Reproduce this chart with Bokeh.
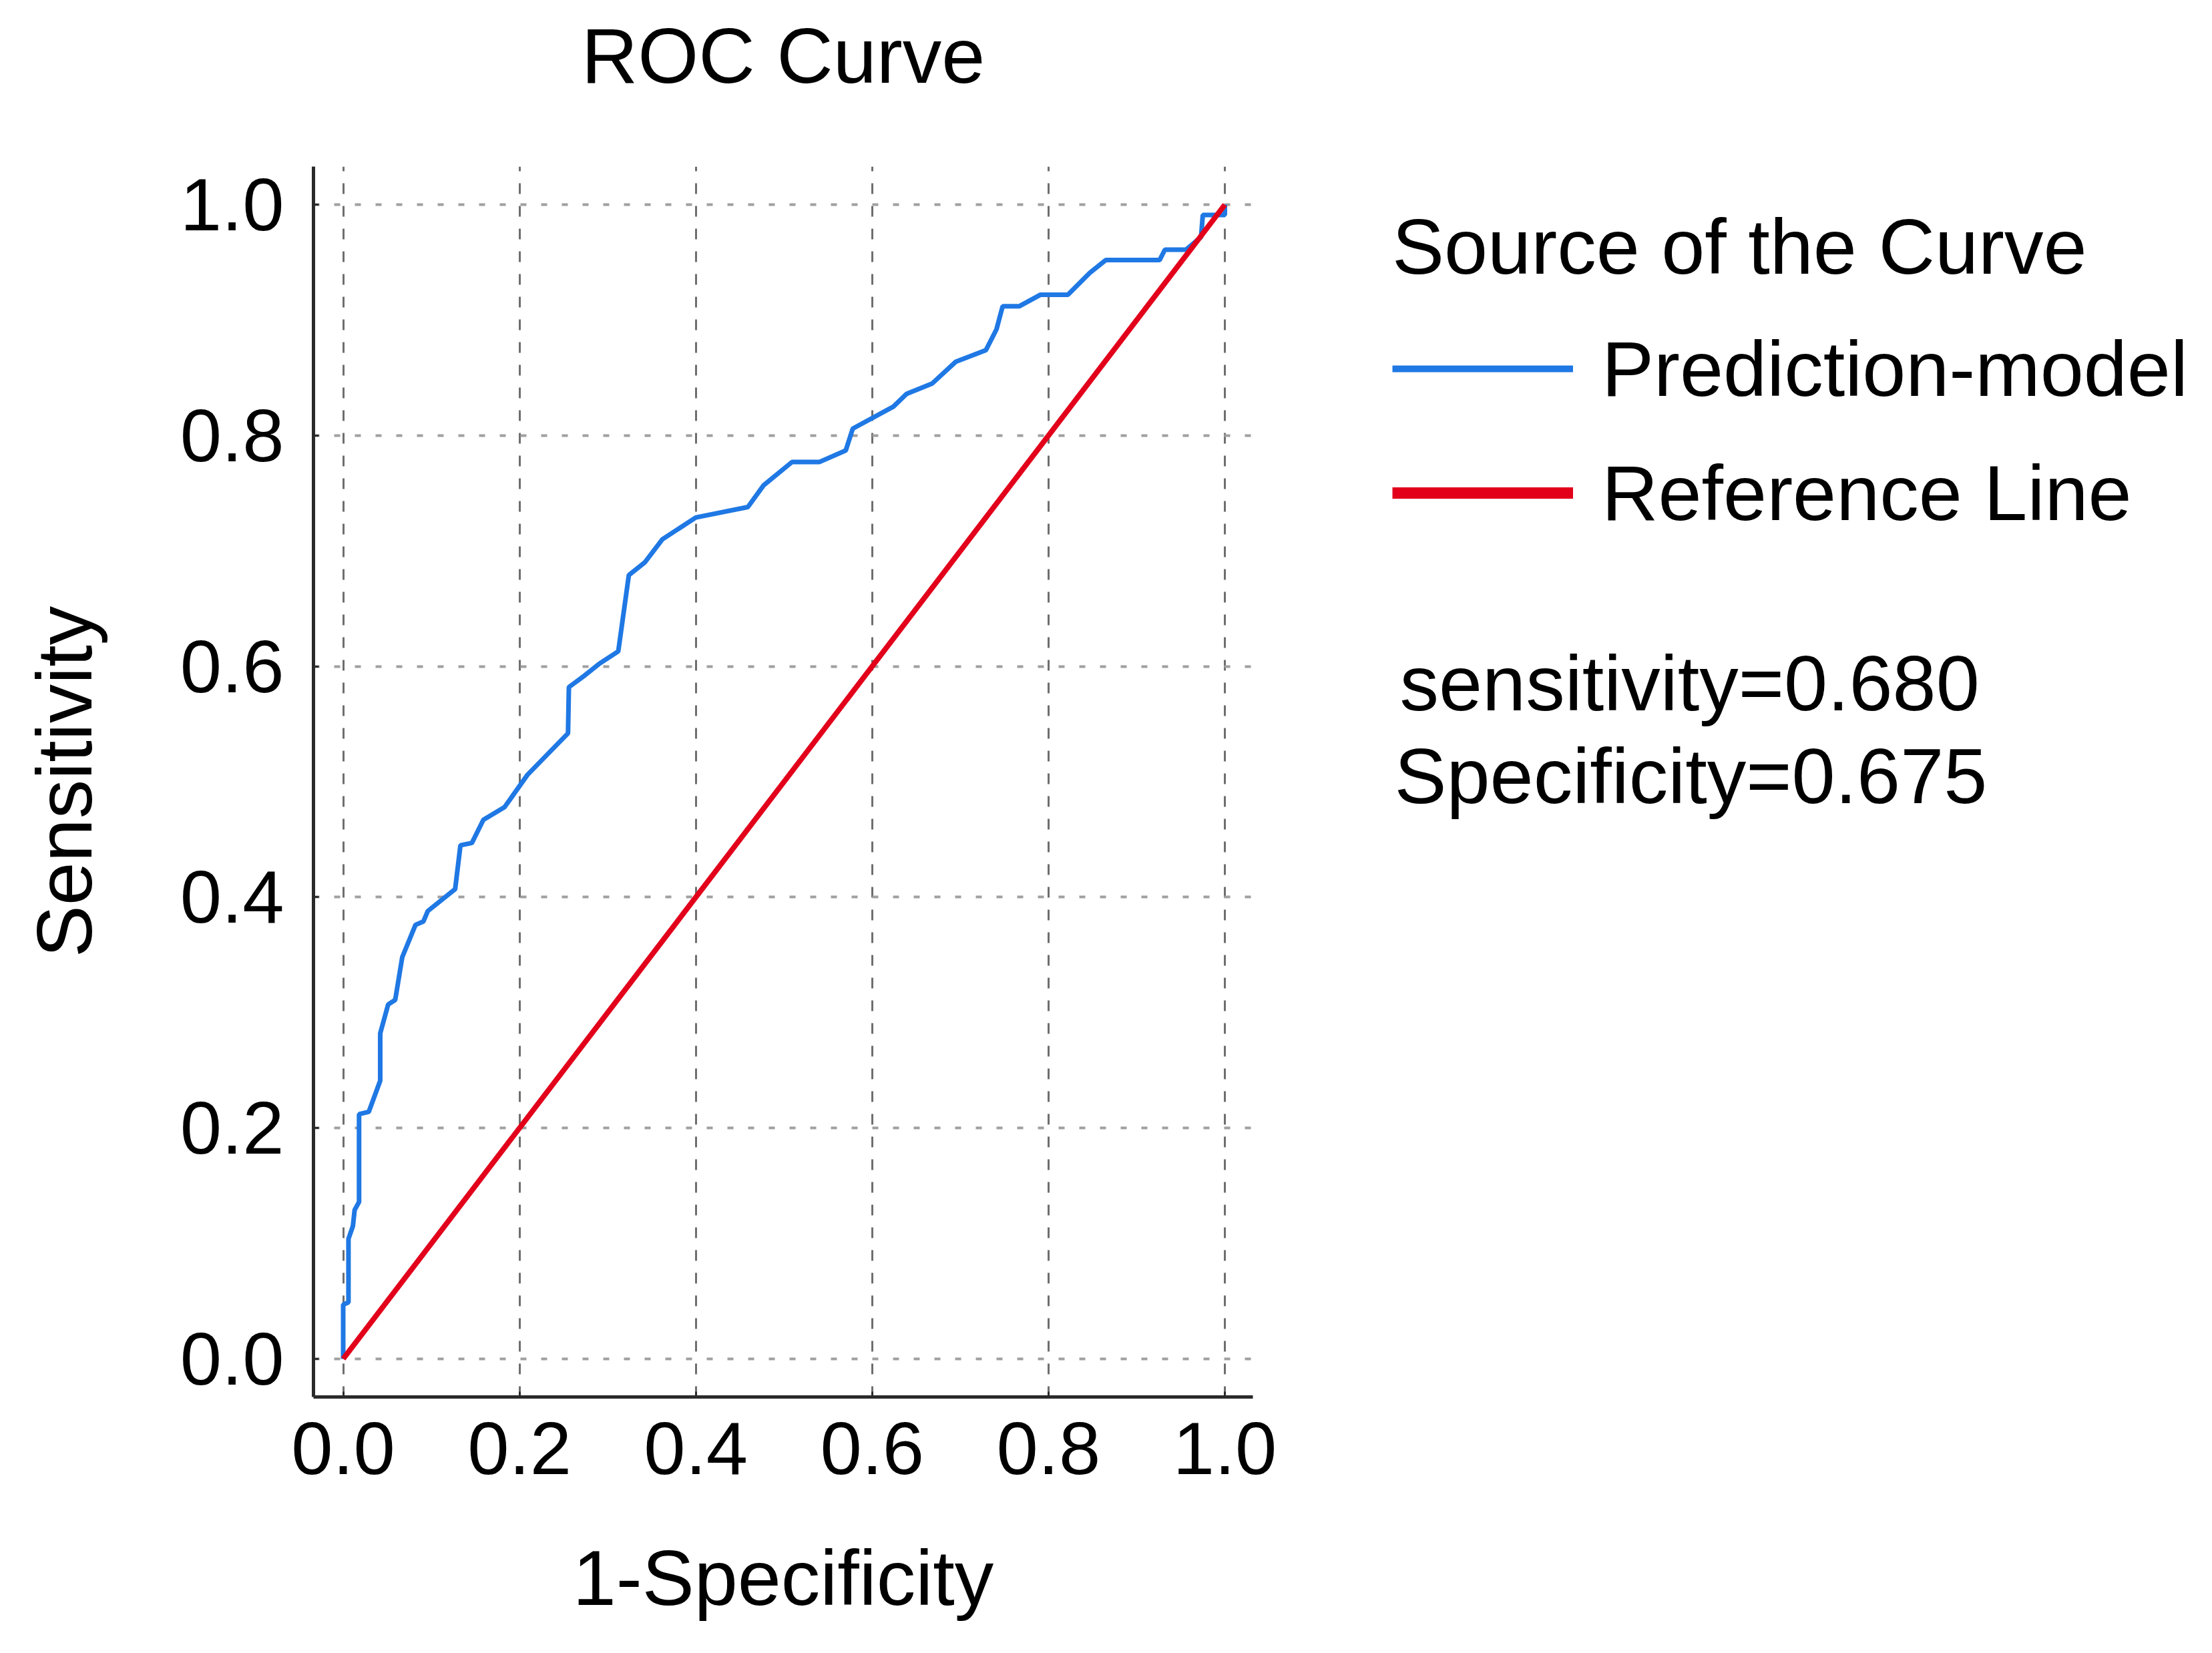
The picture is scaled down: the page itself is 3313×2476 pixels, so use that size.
from bokeh.plotting import figure
from bokeh.layouts import row
from bokeh.models import (Range1d, FixedTicker, PrintfTickFormatter, Legend, LegendItem,
                          Label, LinearAxis)
from bokeh.embed import file_html
from bokeh.resources import INLINE

# ---- data ----
fpr = [0.0, 0.0, 0.006, 0.006, 0.011, 0.013, 0.018, 0.018, 0.029, 0.042, 0.042,
       0.051, 0.059, 0.067, 0.082, 0.091, 0.096, 0.127, 0.133, 0.146, 0.159,
       0.183, 0.209, 0.255, 0.256, 0.272, 0.290, 0.312, 0.324, 0.342, 0.362,
       0.400, 0.459, 0.477, 0.509, 0.540, 0.570, 0.578, 0.624, 0.639, 0.668,
       0.695, 0.729, 0.741, 0.748, 0.767, 0.791, 0.822, 0.847, 0.865, 0.926,
       0.932, 0.956, 0.973, 0.975, 1.0, 1.0]
tpr = [0.0, 0.047, 0.049, 0.104, 0.115, 0.129, 0.136, 0.212, 0.214, 0.241, 0.282,
       0.307, 0.311, 0.348, 0.376, 0.379, 0.388, 0.407, 0.445, 0.447, 0.467,
       0.478, 0.506, 0.542, 0.582, 0.591, 0.602, 0.613, 0.679, 0.690, 0.710,
       0.729, 0.738, 0.757, 0.777, 0.777, 0.787, 0.806, 0.825, 0.836, 0.845,
       0.864, 0.874, 0.892, 0.912, 0.912, 0.922, 0.922, 0.941, 0.952, 0.952,
       0.961, 0.961, 0.972, 0.991, 0.991, 1.0]
ref_x = [0.0, 1.0]
ref_y = [0.0, 1.0]
ticks = [0.0, 0.2, 0.4, 0.6, 0.8, 1.0]
chart_title = "ROC Curve"
series_names = ["Prediction-model", "Reference Line"]
stats_text = ["sensitivity=0.680", "Specificity=0.675"]

FONT = "Liberation Sans"
BLUE = "#1f78e4"
RED = "#e2001b"

W, H = 3313, 2476
TOP, BOTTOM, LEFT, FRAME_R = 249, 2092, 469, 1876
P_W = 2026

# ---------------- main ROC plot ----------------
p = figure(width=P_W, height=H, output_backend="svg", toolbar_location=None,
           title=None,
           x_range=Range1d(-0.0337, 1.0318), y_range=Range1d(-0.033, 1.033),
           min_border_left=LEFT, min_border_right=P_W - FRAME_R, min_border_top=TOP,
           min_border_bottom=H - BOTTOM)
p.outline_line_color = None
p.background_fill_color = "white"
p.border_fill_color = "white"

xax = p.below[0]
yax = p.left[0]
for ax in (xax, yax):
    ax.ticker = FixedTicker(ticks=ticks)
    ax.formatter = PrintfTickFormatter(format="%.1f")
    ax.major_label_text_font = FONT
    ax.major_label_text_font_size = "112px"
    ax.major_label_text_color = "black"
    ax.axis_label_text_font = FONT
    ax.axis_label_text_font_size = "117px"
    ax.axis_label_text_font_style = "normal"
    ax.axis_label_text_color = "black"
    ax.axis_line_color = "#2a2a2a"
    ax.axis_line_width = 5
    ax.major_tick_in = 8
    ax.major_tick_out = 0
    ax.major_tick_line_color = "#2a2a2a"
    ax.major_tick_line_width = 3
    ax.minor_tick_line_color = None

xax.axis_label = "1-Specificity"
yax.axis_label = "Sensitivity"
xax.major_label_standoff = 38
yax.major_label_standoff = 44
xax.axis_label_standoff = 87
yax.axis_label_standoff = 105

# chart title: drawn as the label of a tick-less axis above the plot area,
# so it can sit well above the frame as in the reference
title_axis = LinearAxis(ticker=FixedTicker(ticks=[]), axis_line_color=None,
                        major_tick_line_color=None, minor_tick_line_color=None,
                        major_tick_in=0, major_tick_out=0, minor_tick_in=0,
                        minor_tick_out=0, major_label_standoff=0,
                        axis_label=chart_title, axis_label_standoff=101,
                        axis_label_text_font=FONT, axis_label_text_font_size="117px",
                        axis_label_text_font_style="normal",
                        axis_label_text_color="black")
p.add_layout(title_axis, "above")

p.xgrid.ticker = FixedTicker(ticks=ticks)
p.ygrid.ticker = FixedTicker(ticks=ticks)
p.xgrid.grid_line_color = "#6e6e6e"
p.xgrid.grid_line_width = 3
p.xgrid.grid_line_dash = "16 18"
p.ygrid.grid_line_color = "#a0a0a0"
p.ygrid.grid_line_width = 4
p.ygrid.grid_line_dash = "9 22"

p.line(fpr, tpr, line_color=BLUE, line_width=7)
p.line(ref_x, ref_y, line_color=RED, line_width=8)

# ---------------- legend / statistics panel ----------------
side_w = W - P_W
q = figure(width=side_w, height=H, output_backend="svg", toolbar_location=None,
           x_range=Range1d(P_W, W), y_range=Range1d(BOTTOM, TOP),
           min_border_left=0, min_border_right=0, min_border_top=TOP,
           min_border_bottom=H - BOTTOM, x_axis_type=None, y_axis_type=None)
q.outline_line_color = None
q.grid.visible = False
q.background_fill_color = "white"
q.border_fill_color = "white"

# same series drawn in this panel (they fall outside its visible range);
# they only provide the legend swatches, drawn thicker as in the reference legend
lb = q.line(fpr, tpr, line_color=BLUE, line_width=10)
lr = q.line(ref_x, ref_y, line_color=RED, line_width=17)

legend = Legend(items=[LegendItem(label=series_names[0], renderers=[lb]),
                       LegendItem(label=series_names[1], renderers=[lr])],
                title="Source of the Curve",
                location=(2085 - P_W, BOTTOM - 813))
legend.title_text_font = FONT
legend.title_text_font_size = "117px"
legend.title_text_font_style = "normal"
legend.title_text_color = "black"
legend.title_standoff = 40
legend.label_text_font = FONT
legend.label_text_font_size = "117px"
legend.label_text_color = "black"
legend.glyph_width = 271
legend.glyph_height = 150
legend.label_height = 150
legend.label_standoff = 43
legend.spacing = 36
legend.padding = 0
legend.margin = 0
legend.border_line_color = None
legend.background_fill_alpha = 0
q.add_layout(legend, "center")

q.add_layout(Label(x=2096, y=1023, text=stats_text[0], text_font=FONT,
                   text_font_size="117px", text_color="black",
                   text_baseline="alphabetic"))
q.add_layout(Label(x=2088, y=1162, text=stats_text[1], text_font=FONT,
                   text_font_size="117px", text_color="black",
                   text_baseline="alphabetic"))

layout = row(p, q, spacing=0)
open("out.html", "w").write(file_html(layout, INLINE))
